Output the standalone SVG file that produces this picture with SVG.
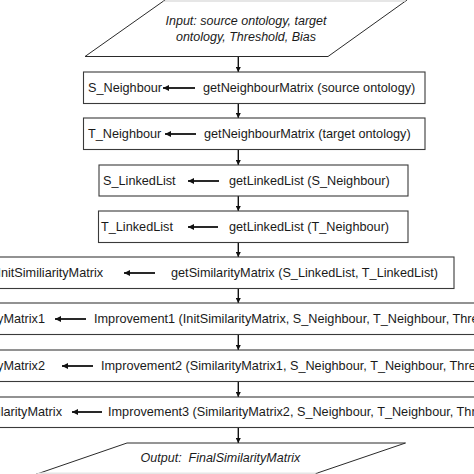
<svg xmlns="http://www.w3.org/2000/svg" width="474" height="474" viewBox="0 0 474 474">
<defs>
<style>
.bg{fill:#ffffff}
.box{fill:#ffffff;stroke:#3a3a3a;stroke-width:1.1}
.io{fill:#ffffff;stroke:#2a2a2a;stroke-width:1}
.shade{fill:#e6e6e6}
.t{font-family:"Liberation Sans",Arial,Helvetica,sans-serif;font-size:12.7px;fill:#1a1a1a}
.it{font-family:"Liberation Sans",Arial,Helvetica,sans-serif;font-size:12.5px;font-style:italic;fill:#1a1a1a}
.conn{stroke:#111;stroke-width:1.4;fill:none}
.inarr{stroke:#111;stroke-width:1.8;fill:none}
</style>
<marker id="down" viewBox="0 0 10 10" refX="10" refY="5" markerWidth="5" markerHeight="5" orient="auto" markerUnits="userSpaceOnUse">
<path d="M0,0 L10,5 L0,10 z" fill="#111"/>
</marker>
<marker id="left" viewBox="0 0 10 10" refX="10" refY="5" markerWidth="7" markerHeight="6" orient="auto" markerUnits="userSpaceOnUse">
<path d="M0,0 L10,5 L0,10 z" fill="#111"/>
</marker>
</defs>
<rect class="bg" x="0" y="0" width="474" height="474"/>

<g id="connectors">
<line class="conn" x1="238.3" y1="57" x2="238.3" y2="72" marker-end="url(#down)"/>
<line class="conn" x1="238.3" y1="103.5" x2="238.3" y2="118" marker-end="url(#down)"/>
<line class="conn" x1="238.3" y1="149.5" x2="238.3" y2="165" marker-end="url(#down)"/>
<line class="conn" x1="238.3" y1="196" x2="238.3" y2="211" marker-end="url(#down)"/>
<line class="conn" x1="238.3" y1="242.5" x2="238.3" y2="257" marker-end="url(#down)"/>
<line class="conn" x1="238.3" y1="288.5" x2="238.3" y2="303" marker-end="url(#down)"/>
<line class="conn" x1="238.3" y1="334.5" x2="238.3" y2="350" marker-end="url(#down)"/>
<line class="conn" x1="238.3" y1="381.5" x2="238.3" y2="397" marker-end="url(#down)"/>
<line class="conn" x1="238.3" y1="427.5" x2="238.3" y2="443" marker-end="url(#down)"/>
</g>

<g id="input">
<polygon class="io" points="165,0 407,0 328,56.5 85,56.5"/>
<polygon class="shade" points="165.5,0 406.5,0 404,2 163,2"/>
<text class="it" x="246" y="25" text-anchor="middle">Input: source ontology, target</text>
<text class="it" x="246" y="40.5" text-anchor="middle">ontology, Threshold, Bias</text>
</g>

<g id="s-neighbour">
<rect class="box" x="83.5" y="72" width="341.5" height="31.5"/>
<text class="t" x="88" y="92">S_Neighbour</text>
<line class="inarr" x1="195" y1="88" x2="163" y2="88" marker-end="url(#left)"/>
<text class="t" x="203" y="92">getNeighbourMatrix (source ontology)</text>
</g>

<g id="t-neighbour">
<rect class="box" x="83.5" y="118" width="341.5" height="31.5"/>
<text class="t" x="88" y="138">T_Neighbour</text>
<line class="inarr" x1="196" y1="134" x2="165" y2="134" marker-end="url(#left)"/>
<text class="t" x="204" y="138">getNeighbourMatrix (target ontology)</text>
</g>

<g id="s-linkedlist">
<rect class="box" x="99" y="165" width="309" height="31"/>
<text class="t" x="103" y="185">S_LinkedList</text>
<line class="inarr" x1="219" y1="181" x2="188" y2="181" marker-end="url(#left)"/>
<text class="t" x="229" y="185">getLinkedList (S_Neighbour)</text>
</g>

<g id="t-linkedlist">
<rect class="box" x="98.5" y="211" width="309.5" height="31.5"/>
<text class="t" x="101" y="231">T_LinkedList</text>
<line class="inarr" x1="218" y1="227" x2="188" y2="227" marker-end="url(#left)"/>
<text class="t" x="229" y="231">getLinkedList (T_Neighbour)</text>
</g>

<g id="init-similarity">
<rect class="box" x="-5" y="257" width="459" height="31.5"/>
<text class="t" x="-2.6" y="277">InitSimiliarityMatrix</text>
<line class="inarr" x1="155" y1="273" x2="124" y2="273" marker-end="url(#left)"/>
<text class="t" x="171" y="277">getSimilarityMatrix (S_LinkedList, T_LinkedList)</text>
</g>

<g id="improvement1">
<rect class="box" x="-5" y="303" width="484" height="31.5"/>
<text class="t" x="45" y="323" text-anchor="end">SimilarityMatrix1</text>
<line class="inarr" x1="86" y1="319" x2="55" y2="319" marker-end="url(#left)"/>
<text class="t" x="94" y="323">Improvement1 (InitSimilarityMatrix, S_Neighbour, T_Neighbour, Threshold, Bias)</text>
</g>

<g id="improvement2">
<rect class="box" x="-5" y="350" width="484" height="31.5"/>
<text class="t" x="45" y="370" text-anchor="end">SimilarityMatrix2</text>
<line class="inarr" x1="93" y1="366" x2="62" y2="366" marker-end="url(#left)"/>
<text class="t" x="101" y="370">Improvement2 (SimilarityMatrix1, S_Neighbour, T_Neighbour, Threshold, Bias)</text>
</g>

<g id="improvement3">
<rect class="box" x="-5" y="397" width="484" height="30.5"/>
<text class="t" x="62" y="416" text-anchor="end">FinalSimilarityMatrix</text>
<line class="inarr" x1="102" y1="412" x2="72" y2="412" marker-end="url(#left)"/>
<text class="t" x="108" y="416">Improvement3 (SimilarityMatrix2, S_Neighbour, T_Neighbour, Threshold, Bias)</text>
</g>

<g id="output">
<polygon class="io" points="127,443 405.5,443 313,474.5 35.5,474.5"/>
<polygon class="shade" points="39,472.5 318,472.5 315,474 36,474"/>
<text class="it" x="220.5" y="462" text-anchor="middle">Output:&#160; FinalSimilarityMatrix</text>
</g>
</svg>
